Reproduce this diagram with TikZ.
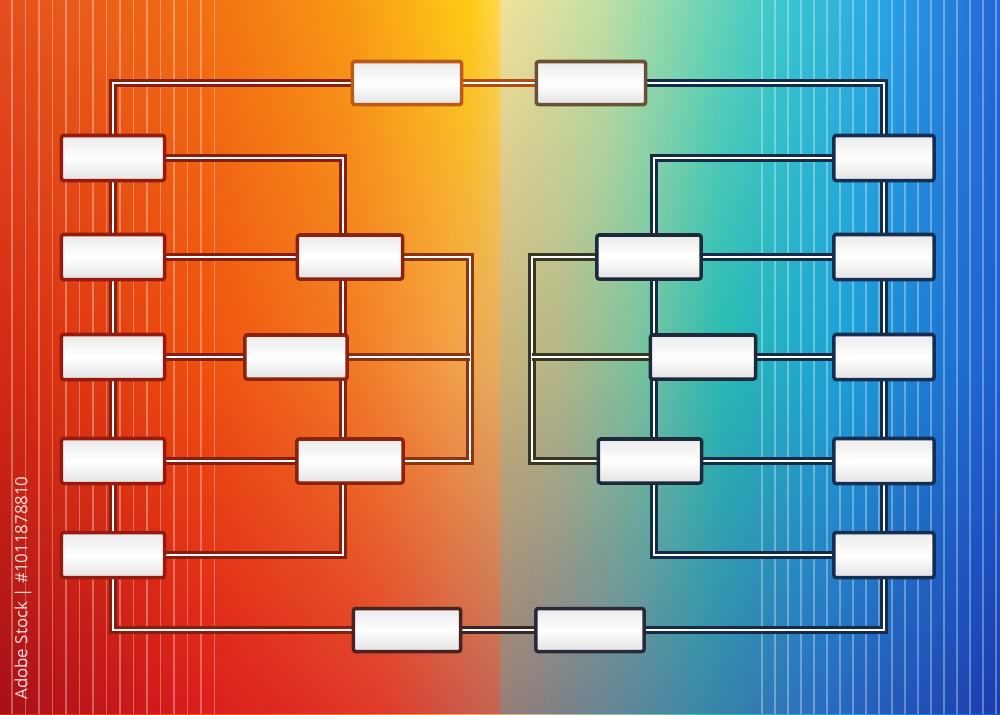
\documentclass[tikz,border=0pt]{standalone}
\usepackage{fontspec}
\newfontfamily\stockfont{Open Sans}
\usetikzlibrary{fadings}

\definecolor{tA}{HTML}{E5501E}\definecolor{tB}{HTML}{F27014}\definecolor{tC}{HTML}{F99A14}
\definecolor{tD}{HTML}{FFCC14}\definecolor{tE}{HTML}{FFD84A}\definecolor{tF}{HTML}{F2E29E}
\definecolor{tG}{HTML}{C4E0A4}\definecolor{tH}{HTML}{74D6B4}\definecolor{tI}{HTML}{3CC8CC}
\definecolor{tJ}{HTML}{2AA6E4}\definecolor{tK}{HTML}{2466D6}
\definecolor{mA}{HTML}{D42A14}\definecolor{mB}{HTML}{F0500E}\definecolor{mC}{HTML}{F27A24}
\definecolor{mD}{HTML}{F4A048}\definecolor{mE}{HTML}{E8AE60}\definecolor{mF}{HTML}{C8B47C}
\definecolor{mG}{HTML}{B4B888}\definecolor{mH}{HTML}{78C4A0}\definecolor{mI}{HTML}{28BCB4}
\definecolor{mJ}{HTML}{1CA0D8}\definecolor{mK}{HTML}{1E5ED0}
\definecolor{bA}{HTML}{A81018}\definecolor{bB}{HTML}{DC1C1C}\definecolor{bC}{HTML}{E03A2C}
\definecolor{bD}{HTML}{C46454}\definecolor{bE}{HTML}{9A7C78}\definecolor{bF}{HTML}{6C8494}
\definecolor{bG}{HTML}{3C88A8}\definecolor{bH}{HTML}{2A6CC0}\definecolor{bI}{HTML}{1A3CB0}

\definecolor{lineL}{HTML}{8A1E0E}\definecolor{lineLA}{HTML}{8A3410}
\definecolor{lineR}{HTML}{142C4A}\definecolor{lineRA}{HTML}{3A3626}
\definecolor{lineTop}{HTML}{AC4E16}\definecolor{lineBot}{HTML}{3A2424}
\definecolor{boxL}{HTML}{961A0E}\definecolor{boxLA}{HTML}{8A220E}
\definecolor{boxTa}{HTML}{BE5A18}\definecolor{boxTb}{HTML}{6A5034}
\definecolor{boxBa}{HTML}{4A2222}\definecolor{boxBb}{HTML}{2A2A3A}
\definecolor{boxR}{HTML}{152E52}\definecolor{boxRA}{HTML}{1C2A3C}

\pgfdeclarehorizontalshading{bgtop}{100bp}{color(0bp)=(tA); color(25bp)=(tA);
  color(35bp)=(tB); color(42.5bp)=(tC); color(48.5bp)=(tD); color(49.9bp)=(tE);
  color(50.1bp)=(tF); color(55bp)=(tG); color(60bp)=(tH); color(64bp)=(tI);
  color(69bp)=(tJ); color(75bp)=(tK); color(100bp)=(tK)}
\pgfdeclarehorizontalshading{bgmid}{100bp}{color(0bp)=(mA); color(25bp)=(mA);
  color(35bp)=(mB); color(42.5bp)=(mC); color(47.5bp)=(mD); color(49.9bp)=(mE);
  color(50.1bp)=(mF); color(53bp)=(mG); color(57bp)=(mH); color(61bp)=(mI);
  color(67.5bp)=(mJ); color(75bp)=(mK); color(100bp)=(mK)}
\pgfdeclarehorizontalshading{bgbot}{100bp}{color(0bp)=(bA); color(25bp)=(bA);
  color(35bp)=(bB); color(44bp)=(bC); color(49.9bp)=(bD); color(50.1bp)=(bE);
  color(55bp)=(bF); color(60bp)=(bG); color(66bp)=(bH); color(75bp)=(bI);
  color(100bp)=(bI)}

\pgfdeclarelayer{bg}
\pgfdeclarelayer{links}
\pgfsetlayers{bg,links,main}

\begin{document}
\begin{tikzpicture}[x=0.01cm, y=-0.01cm,
    box/.style={draw=#1, line width=1pt, rounded corners=0.6pt, inner sep=0pt,
      minimum width=1.03cm, minimum height=0.45cm,
      top color=black!8, bottom color=black!11, middle color=white},
    link/.style={draw=#1, double=white, double distance=0.75pt, line width=0.72pt},
    stripe/.style={white, opacity=0.32, line width=0.3pt}]
  \useasboundingbox (0,0) rectangle (1000,714);

  \begin{pgfonlayer}{bg}
    \shade[shading=bgmid] (0,0) rectangle (1000,714);
    \shade[shading=bgtop, path fading=south] (0,0) rectangle (1000,357);
    \shade[shading=bgbot, path fading=north] (0,357) rectangle (1000,714);
    \foreach \x in {12,25.5,...,216}
      \draw[stripe] (\x,0) -- (\x,714);
    \foreach \x in {762,775,...,1000}
      \draw[stripe] (\x,0) -- (\x,714);
  \end{pgfonlayer}

  \node[box=boxTa, minimum width=1.09cm, minimum height=0.43cm] (T1) at (407,83) {};
  \node[box=boxTb, minimum width=1.09cm, minimum height=0.43cm] (T2) at (591,83) {};
  \node[box=boxBa, minimum width=1.07cm, minimum height=0.43cm] (B1) at (407,630) {};
  \node[box=boxBb, minimum width=1.08cm, minimum height=0.43cm] (B2) at (590,630) {};

  \node[box=boxL] (L1) at (113,158) {};
  \node[box=boxL] (L2) at (113,257) {};
  \node[box=boxL] (L3) at (113,357) {};
  \node[box=boxL] (L4) at (113,461) {};
  \node[box=boxL] (L5) at (113,555) {};
  \node[box=boxLA, minimum width=1.05cm, minimum height=0.44cm] (LA) at (350,257) {};
  \node[box=boxLA, minimum width=1.02cm, minimum height=0.44cm] (LB) at (296,357) {};
  \node[box=boxLA, minimum width=1.06cm, minimum height=0.44cm] (LC) at (350,461) {};

  \node[box=boxR, minimum width=1.0cm] (R1) at (884,158) {};
  \node[box=boxR, minimum width=1.0cm] (R2) at (884,257) {};
  \node[box=boxR, minimum width=1.0cm] (R3) at (884,357) {};
  \node[box=boxR, minimum width=1.0cm] (R4) at (884,461) {};
  \node[box=boxR, minimum width=1.0cm] (R5) at (884,555) {};
  \node[box=boxRA, minimum width=1.04cm, minimum height=0.44cm] (RA) at (649,257) {};
  \node[box=boxRA, minimum width=1.05cm, minimum height=0.44cm] (RB) at (703,357) {};
  \node[box=boxRA, minimum width=1.03cm, minimum height=0.44cm] (RC) at (650,461) {};

  \coordinate (spineL) at (343,357);
  \coordinate (spineLA) at (470,357);
  \coordinate (spineR) at (654,357);
  \coordinate (spineRA) at (532,357);

  \begin{pgfonlayer}{links}
    \draw[link=lineL] (T1.center) -| (L1.center) |- (B1.center);
    \draw[link=lineR] (T2.center) -| (R1.center) |- (B2.center);
    \draw[link=lineTop] (T1.center) -- (T2.center);
    \draw[link=lineBot] (B1.center) -- (B2.center);

    \draw[link=lineL] (L1.center) -| (spineL) |- (L5.center);
    \draw[link=lineL] (L2.center) -- (LA.center);
    \draw[link=lineL] (L3.center) -- (LB.center);
    \draw[link=lineL] (L4.center) -- (LC.center);
    \draw[link=lineLA] (LA.center) -| (spineLA) |- (LC.center);
    \draw[link=lineLA] (LB.center) -- (spineLA);

    \draw[link=lineR] (R1.center) -| (spineR) |- (R5.center);
    \draw[link=lineR] (R2.center) -- (RA.center);
    \draw[link=lineR] (R3.center) -- (RB.center);
    \draw[link=lineR] (R4.center) -- (RC.center);
    \draw[link=lineRA] (RA.center) -| (spineRA) |- (RC.center);
    \draw[link=lineRA] (RB.center) -- (spineRA);
  \end{pgfonlayer}

  \node[rotate=90, text=white, opacity=0.85, font=\stockfont\fontsize{4.8}{6}\selectfont]
    (stocktag) at (23,588) {Adobe Stock | \#1011878810};
\end{tikzpicture}
\end{document}
